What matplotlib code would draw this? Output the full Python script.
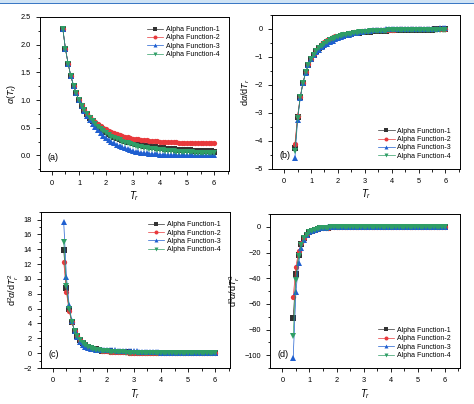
# Alpha function comparison: alpha(Tr) and its first three derivatives
# ----------------------------------------------------------------------------------------------------------------------
import matplotlib
matplotlib.use("Agg")
import matplotlib.pyplot as plt
from matplotlib.patches import Rectangle
from matplotlib.ticker import AutoMinorLocator
# ----------------------------------------------------------------------------------------------------------------------

# Reduced temperature grid (0.4 -> 6.0, 57 points)
Tr = [0.4, 0.5, 0.6, 0.7, 0.8, 0.9, 1.0,
      1.1, 1.2, 1.3, 1.4, 1.5, 1.6, 1.7, 1.8, 1.9, 2.0,
      2.1, 2.2, 2.3, 2.4, 2.5, 2.6, 2.7, 2.8, 2.9, 3.0,
      3.1, 3.2, 3.3, 3.4, 3.5, 3.6, 3.7, 3.8, 3.9, 4.0,
      4.1, 4.2, 4.3, 4.4, 4.5, 4.6, 4.7, 4.8, 4.9, 5.0,
      5.1, 5.2, 5.3, 5.4, 5.5, 5.6, 5.7, 5.8, 5.9, 6.0]

series_names = ["Alpha Function-1", "Alpha Function-2", "Alpha Function-3", "Alpha Function-4"]

# Panel (a): alpha(Tr)
a_af1 = [2.29, 1.92, 1.65, 1.43, 1.26, 1.12, 1.00,
         0.90, 0.82, 0.745, 0.68, 0.625, 0.575, 0.53, 0.49, 0.455, 0.42,
         0.39, 0.365, 0.34, 0.32, 0.30, 0.28, 0.265, 0.25, 0.235, 0.22,
         0.21, 0.198, 0.188, 0.178, 0.17, 0.162, 0.155, 0.148, 0.141, 0.135,
         0.13, 0.124, 0.119, 0.115, 0.11, 0.106, 0.102, 0.099, 0.095, 0.092,
         0.089, 0.086, 0.084, 0.081, 0.079, 0.077, 0.075, 0.073, 0.071, 0.07]
a_af2 = [2.29, 1.92, 1.65, 1.43, 1.26, 1.12, 1.00,
         0.905, 0.825, 0.755, 0.695, 0.645, 0.60, 0.56, 0.525, 0.495, 0.47,
         0.445, 0.42, 0.40, 0.38, 0.365, 0.35, 0.337, 0.325, 0.315, 0.305,
         0.297, 0.289, 0.282, 0.276, 0.27, 0.265, 0.26, 0.256, 0.252, 0.248,
         0.245, 0.242, 0.239, 0.237, 0.235, 0.233, 0.231, 0.229, 0.228, 0.227,
         0.226, 0.225, 0.224, 0.223, 0.222, 0.222, 0.221, 0.221, 0.22, 0.22]
a_af3 = [2.29, 1.92, 1.65, 1.43, 1.26, 1.12, 1.00,
         0.89, 0.80, 0.715, 0.64, 0.57, 0.505, 0.45, 0.40, 0.355, 0.315,
         0.28, 0.245, 0.215, 0.19, 0.165, 0.145, 0.125, 0.108, 0.093, 0.08,
         0.069, 0.059, 0.05, 0.043, 0.036, 0.031, 0.026, 0.022, 0.018, 0.015,
         0.013, 0.011, 0.009, 0.008, 0.007, 0.006, 0.005, 0.004, 0.004, 0.003,
         0.003, 0.002, 0.002, 0.002, 0.001, 0.001, 0.001, 0.001, 0.001, 0.0]
a_af4 = [2.29, 1.92, 1.65, 1.43, 1.26, 1.12, 1.00,
         0.90, 0.815, 0.74, 0.675, 0.615, 0.565, 0.52, 0.475, 0.44, 0.405,
         0.37, 0.34, 0.315, 0.29, 0.27, 0.25, 0.23, 0.215, 0.2, 0.185,
         0.172, 0.16, 0.15, 0.14, 0.131, 0.123, 0.115, 0.108, 0.102, 0.096,
         0.091, 0.086, 0.081, 0.077, 0.073, 0.07, 0.066, 0.063, 0.06, 0.058,
         0.055, 0.053, 0.051, 0.049, 0.047, 0.045, 0.044, 0.042, 0.041, 0.04]

# Panel (b): d(alpha)/dTr
b_af1 = [-4.25, -3.15, -2.42, -1.92, -1.55, -1.28, -1.08,
         -0.92, -0.79, -0.69, -0.60, -0.53, -0.47, -0.41, -0.37, -0.33, -0.295,
         -0.265, -0.24, -0.215, -0.195, -0.175, -0.16, -0.145, -0.13, -0.12, -0.11,
         -0.1, -0.092, -0.085, -0.078, -0.072, -0.066, -0.061, -0.057, -0.053, -0.049,
         -0.046, -0.043, -0.04, -0.037, -0.035, -0.033, -0.031, -0.029, -0.027, -0.026,
         -0.024, -0.023, -0.022, -0.021, -0.02, -0.019, -0.018, -0.017, -0.016, -0.015]
b_af2 = [-4.1, -3.1, -2.42, -1.92, -1.55, -1.27, -1.06,
         -0.88, -0.74, -0.63, -0.54, -0.465, -0.40, -0.35, -0.305, -0.27, -0.235,
         -0.21, -0.185, -0.165, -0.145, -0.13, -0.115, -0.103, -0.092, -0.082, -0.073,
         -0.065, -0.058, -0.052, -0.046, -0.041, -0.037, -0.033, -0.029, -0.026, -0.023,
         -0.02, -0.018, -0.016, -0.014, -0.012, -0.011, -0.01, -0.009, -0.008, -0.007,
         -0.006, -0.006, -0.005, -0.005, -0.004, -0.004, -0.003, -0.003, -0.003, -0.002]
b_af3 = [-4.6, -3.25, -2.45, -1.93, -1.56, -1.29, -1.09,
         -0.94, -0.83, -0.74, -0.66, -0.59, -0.53, -0.47, -0.42, -0.375, -0.335,
         -0.295, -0.26, -0.23, -0.2, -0.175, -0.152, -0.132, -0.114, -0.098, -0.084,
         -0.071, -0.06, -0.05, -0.042, -0.034, -0.028, -0.022, -0.017, -0.013, -0.009,
         -0.006, -0.003, -0.001, 0.001, 0.003, 0.004, 0.005, 0.006, 0.007, 0.008,
         0.009, 0.01, 0.011, 0.012, 0.013, 0.014, 0.015, 0.016, 0.017, 0.018]
b_af4 = [-4.35, -3.18, -2.43, -1.92, -1.55, -1.28, -1.08,
         -0.92, -0.79, -0.685, -0.6, -0.525, -0.46, -0.405, -0.36, -0.32, -0.285,
         -0.255, -0.23, -0.205, -0.185, -0.168, -0.152, -0.138, -0.126, -0.115, -0.105,
         -0.096, -0.089, -0.082, -0.076, -0.07, -0.066, -0.062, -0.058, -0.055, -0.052,
         -0.05, -0.048, -0.046, -0.044, -0.043, -0.042, -0.041, -0.04, -0.039, -0.038,
         -0.038, -0.037, -0.037, -0.036, -0.036, -0.035, -0.035, -0.035, -0.034, -0.034]

# Panel (c): d2(alpha)/dTr2
c_af1 = [13.9, 8.8, 5.9, 4.2, 3.05, 2.3, 1.75,
         1.38, 1.1, 0.89, 0.73, 0.6, 0.5, 0.42, 0.36, 0.31, 0.265,
         0.23, 0.2, 0.175, 0.155, 0.137, 0.122, 0.109, 0.098, 0.088, 0.079,
         0.071, 0.065, 0.059, 0.054, 0.049, 0.045, 0.041, 0.038, 0.035, 0.032,
         0.03, 0.028, 0.026, 0.024, 0.022, 0.021, 0.019, 0.018, 0.017, 0.016,
         0.015, 0.014, 0.013, 0.013, 0.012, 0.011, 0.011, 0.01, 0.01, 0.009]
c_af2 = [12.3, 8.2, 5.7, 4.15, 3.05, 2.3, 1.78,
         1.4, 1.12, 0.9, 0.74, 0.61, 0.5, 0.42, 0.35, 0.3, 0.255,
         0.22, 0.19, 0.165, 0.145, 0.126, 0.11, 0.097, 0.086, 0.076, 0.067,
         0.059, 0.052, 0.046, 0.041, 0.036, 0.032, 0.029, 0.026, 0.023, 0.02,
         0.018, 0.016, 0.014, 0.013, 0.011, 0.01, 0.009, 0.008, 0.007, 0.007,
         0.006, 0.005, 0.005, 0.004, 0.004, 0.004, 0.003, 0.003, 0.003, 0.002]
c_af3 = [17.6, 10.3, 6.5, 4.3, 3.0, 2.15, 1.55,
         1.15, 0.9, 0.72, 0.6, 0.52, 0.47, 0.44, 0.42, 0.41, 0.4,
         0.39, 0.38, 0.37, 0.36, 0.345, 0.33, 0.31, 0.29, 0.27, 0.25,
         0.23, 0.21, 0.19, 0.17, 0.155, 0.14, 0.125, 0.11, 0.1, 0.09,
         0.08, 0.072, 0.065, 0.058, 0.052, 0.047, 0.042, 0.038, 0.034, 0.031,
         0.028, 0.025, 0.023, 0.021, 0.019, 0.017, 0.016, 0.015, 0.014, 0.013]
c_af4 = [15.0, 9.0, 6.0, 4.25, 3.05, 2.28, 1.72,
         1.33, 1.05, 0.84, 0.68, 0.56, 0.46, 0.38, 0.32, 0.27, 0.23,
         0.2, 0.17, 0.148, 0.129, 0.113, 0.1, 0.088, 0.078, 0.07, 0.062,
         0.056, 0.05, 0.045, 0.041, 0.037, 0.033, 0.03, 0.027, 0.025, 0.023,
         0.021, 0.019, 0.017, 0.016, 0.015, 0.014, 0.013, 0.012, 0.011, 0.01,
         0.009, 0.009, 0.008, 0.008, 0.007, 0.007, 0.006, 0.006, 0.006, 0.005]

# Panel (d): d3(alpha)/dTr3
d_af1 = [-71, -37, -22, -13.5, -8.8, -5.9, -4.1,
         -2.9, -2.1, -1.55, -1.15, -0.87, -0.66, -0.51, -0.4, -0.31, -0.25,
         -0.2, -0.16, -0.13, -0.11, -0.09, -0.075, -0.063, -0.053, -0.045, -0.038,
         -0.033, -0.028, -0.024, -0.021, -0.018, -0.016, -0.014, -0.012, -0.011, -0.01,
         -0.009, -0.008, -0.007, -0.006, -0.006, -0.005, -0.005, -0.004, -0.004, -0.004,
         -0.003, -0.003, -0.003, -0.003, -0.002, -0.002, -0.002, -0.002, -0.002, -0.002]
d_af2 = [-55, -31, -19, -12.5, -8.5, -5.8, -4.1,
         -2.95, -2.15, -1.6, -1.2, -0.9, -0.69, -0.53, -0.41, -0.32, -0.25,
         -0.2, -0.16, -0.13, -0.105, -0.085, -0.07, -0.057, -0.047, -0.039, -0.032,
         -0.027, -0.022, -0.019, -0.016, -0.013, -0.011, -0.01, -0.008, -0.007, -0.006,
         -0.005, -0.005, -0.004, -0.004, -0.003, -0.003, -0.003, -0.002, -0.002, -0.002,
         -0.002, -0.001, -0.001, -0.001, -0.001, -0.001, -0.001, -0.001, -0.001, -0.001]
d_af3 = [-102, -51, -28, -16.5, -10.2, -6.5, -4.3,
         -2.9, -2.0, -1.4, -1.0, -0.72, -0.52, -0.38, -0.28, -0.21, -0.16,
         -0.13, -0.11, -0.1, -0.09, -0.085, -0.08, -0.075, -0.07, -0.065, -0.06,
         -0.055, -0.05, -0.045, -0.04, -0.036, -0.032, -0.028, -0.025, -0.022, -0.019,
         -0.017, -0.015, -0.013, -0.011, -0.01, -0.009, -0.008, -0.007, -0.006, -0.005,
         -0.005, -0.004, -0.004, -0.003, -0.003, -0.003, -0.002, -0.002, -0.002, -0.002]
d_af4 = [-85, -41, -23, -14, -9.0, -6.0, -4.1,
         -2.85, -2.05, -1.5, -1.1, -0.82, -0.62, -0.47, -0.36, -0.28, -0.22,
         -0.17, -0.14, -0.11, -0.09, -0.075, -0.062, -0.052, -0.043, -0.036, -0.03,
         -0.026, -0.022, -0.019, -0.016, -0.014, -0.012, -0.011, -0.01, -0.009, -0.008,
         -0.007, -0.006, -0.006, -0.005, -0.005, -0.004, -0.004, -0.004, -0.003, -0.003,
         -0.003, -0.003, -0.002, -0.002, -0.002, -0.002, -0.002, -0.002, -0.002, -0.001]

# Styling for the four series (Origin-like)
colors  = ["#333333", "#e8393c", "#1f5fd0", "#2f9e66"]
markers = ["s", "o", "^", "v"]

plt.rcParams["font.family"] = "Liberation Sans"
plt.rcParams["mathtext.fontset"] = "custom"
plt.rcParams["mathtext.rm"] = "Liberation Sans"
plt.rcParams["mathtext.it"] = "Liberation Sans:italic"

fig = plt.figure(figsize=(4.74, 4.04), dpi=100)

# Thin blue banner across the top of the picture
fig.patches.append(Rectangle((0, 0.99), 1, 0.01, transform=fig.transFigure,
                             facecolor="#cfe3f5", edgecolor="none"))
fig.patches.append(Rectangle((0, 0.989), 1, 0.003, transform=fig.transFigure,
                             facecolor="#3b78c4", edgecolor="none"))

panels = [
    # rect, data, ylim, yticks, ylabel, tag, legend loc
    ([0.084, 0.577, 0.399, 0.381], [a_af1, a_af2, a_af3, a_af4], (-0.28, 2.5),
     [0.0, 0.5, 1.0, 1.5, 2.0, 2.5], r"$\alpha$($T_r$)", "(a)", "upper right"),
    ([0.574, 0.582, 0.397, 0.381], [b_af1, b_af2, b_af3, b_af4], (-5.0, 0.5),
     [-5, -4, -3, -2, -1, 0], r"d$\alpha$/d$T_r$", "(b)", "lower right"),
    ([0.086, 0.089, 0.399, 0.386], [c_af1, c_af2, c_af3, c_af4], (-2.0, 19.0),
     list(range(-2, 19, 2)), r"d$^2\alpha$/d$T_r^2$", "(c)", "upper right"),
    ([0.570, 0.089, 0.400, 0.381], [d_af1, d_af2, d_af3, d_af4], (-110, 10),
     [-100, -80, -60, -40, -20, 0], r"d$^3\alpha$/d$T_r^3$", "(d)", "lower right"),
]

for rect, data, ylim, yticks, ylabel, tag, loc in panels:
    ax = fig.add_axes(rect)

    # Plot each alpha function as a thin line with small markers
    for vals, name, col, mk in zip(data, series_names, colors, markers):
        ax.plot(Tr, vals, color=col, marker=mk, ms=3.8, lw=0.5,
                markeredgewidth=0, label=name)

    ax.set_xlim(-0.45, 6.55)
    ax.set_ylim(*ylim)
    ax.set_xticks(range(0, 7))
    ax.set_yticks(yticks)
    if tag == "(a)":
        ax.set_yticklabels([f"{t:.1f}" for t in yticks])
    ax.xaxis.set_minor_locator(AutoMinorLocator(2))
    ax.yaxis.set_minor_locator(AutoMinorLocator(2))
    ax.tick_params(which="both", direction="out", labelsize=5.3, width=0.6, top=False, right=False)
    ax.tick_params(which="major", length=3)
    ax.tick_params(which="minor", length=1.8)
    for sp in ax.spines.values():
        sp.set_linewidth(0.7)

    ax.set_xlabel(r"$T_r$", fontsize=7, labelpad=2)
    ax.set_ylabel(ylabel, fontsize=6.5, labelpad=2)
    ax.text(0.04, 0.06, tag, transform=ax.transAxes, fontsize=6.5, va="bottom", ha="left")

    # Compact frameless legend, as in the original figure
    leg = ax.legend(loc=loc, fontsize=5.0, frameon=False, handlelength=2.4,
                    handletextpad=0.4, labelspacing=0.2, borderaxespad=0.9,
                    markerscale=0.75)

plt.savefig("out.png", dpi=100)
